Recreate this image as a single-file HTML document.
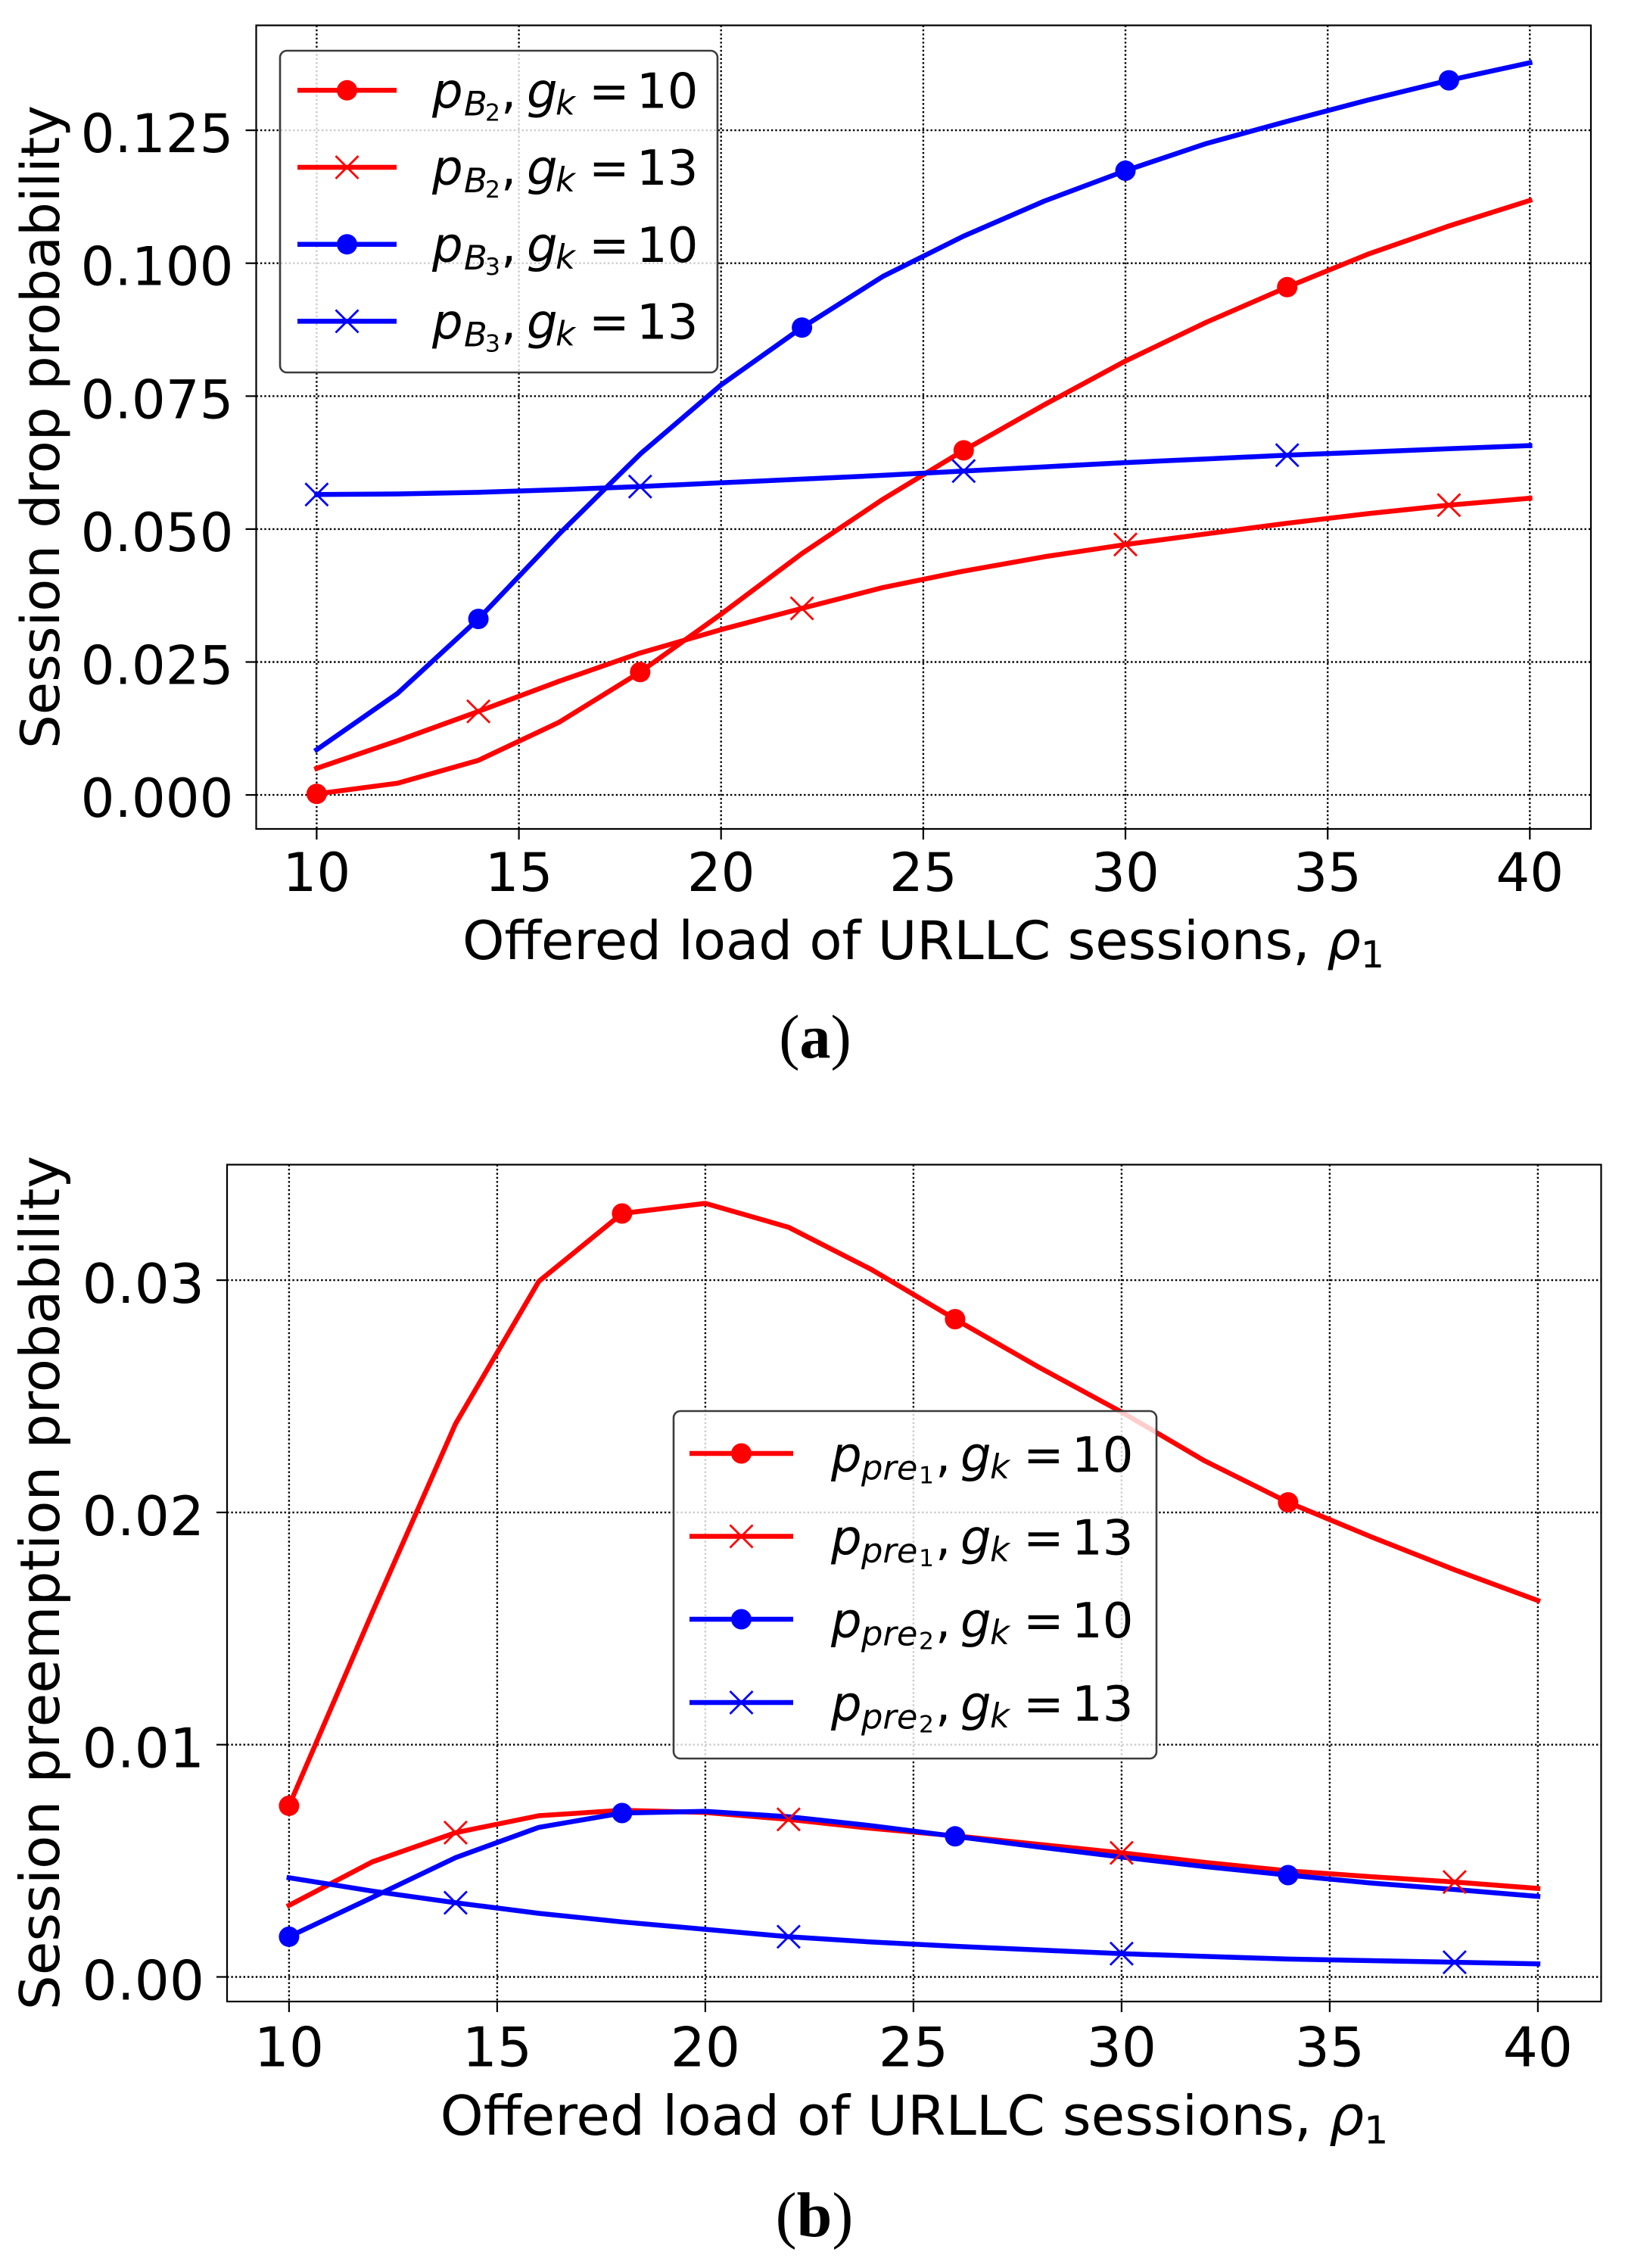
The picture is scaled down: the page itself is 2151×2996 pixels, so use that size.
<!DOCTYPE html>
<html>
<head>
<meta charset="utf-8">
<style>
html,body{margin:0;padding:0;background:#fff;}
svg{display:block;}
text{font-family:"DejaVu Sans","Liberation Sans",sans-serif;fill:#000;}
</style>
</head>
<body>
<svg xmlns="http://www.w3.org/2000/svg" width="2151" height="2996" viewBox="0 0 2151 2996">
<rect x="0" y="0" width="2151" height="2996" fill="#fff"/>

<!-- ================= PLOT (a) ================= -->
<g stroke="#000" stroke-width="2.4" stroke-dasharray="2.4 3" fill="none">
  <line x1="418.4" y1="33.5" x2="418.4" y2="1095"/>
  <line x1="685.6" y1="33.5" x2="685.6" y2="1095"/>
  <line x1="952.7" y1="33.5" x2="952.7" y2="1095"/>
  <line x1="1219.9" y1="33.5" x2="1219.9" y2="1095"/>
  <line x1="1487.0" y1="33.5" x2="1487.0" y2="1095"/>
  <line x1="1754.2" y1="33.5" x2="1754.2" y2="1095"/>
  <line x1="2021.3" y1="33.5" x2="2021.3" y2="1095"/>
  <line x1="338.5" y1="1050.1" x2="2102" y2="1050.1"/>
  <line x1="338.5" y1="874.5" x2="2102" y2="874.5"/>
  <line x1="338.5" y1="698.9" x2="2102" y2="698.9"/>
  <line x1="338.5" y1="523.3" x2="2102" y2="523.3"/>
  <line x1="338.5" y1="347.7" x2="2102" y2="347.7"/>
  <line x1="338.5" y1="172.1" x2="2102" y2="172.1"/>
</g>

<g fill="none" stroke-width="6.5" stroke-linejoin="round" stroke-linecap="square">
  <polyline stroke="#ff0000" points="418.4,1048.7 525.3,1034.6 632.1,1004.4 739.0,953.9 845.8,887.8 952.7,811.3 1059.6,731.2 1166.4,659.6 1273.3,594.9 1380.1,534.5 1487.0,476.9 1593.9,425.7 1700.7,379.3 1807.6,335.7 1914.4,298.5 2021.3,264.8"/>
  <polyline stroke="#ff0000" points="418.4,1015.0 525.3,978.5 632.1,939.8 739.0,899.8 845.8,862.6 952.7,831.7 1059.6,803.6 1166.4,776.2 1273.3,754.4 1380.1,735.4 1487.0,719.3 1593.9,705.2 1700.7,691.2 1807.6,678.5 1914.4,667.3 2021.3,658.2"/>
  <polyline stroke="#0000ff" points="418.4,990.4 525.3,915.9 632.1,817.6 739.0,705.2 845.8,599.9 952.7,508.5 1059.6,432.7 1166.4,365.2 1273.3,311.9 1380.1,265.5 1487.0,225.5 1593.9,189.6 1700.7,160.2 1807.6,132.1 1914.4,106.1 2021.3,82.9"/>
  <polyline stroke="#0000ff" points="418.4,653.2 525.3,652.5 632.1,650.4 739.0,646.9 845.8,642.7 952.7,637.8 1059.6,632.9 1166.4,627.9 1273.3,622.3 1380.1,616.7 1487.0,611.1 1593.9,606.2 1700.7,601.3 1807.6,597.1 1914.4,592.8 2021.3,588.6"/>
</g>
<g fill="#ff0000">
  <circle cx="418.4" cy="1048.7" r="13.5"/>
  <circle cx="845.8" cy="887.8" r="13.5"/>
  <circle cx="1273.3" cy="594.9" r="13.5"/>
  <circle cx="1700.7" cy="379.3" r="13.5"/>
</g>
<g stroke="#ff0000" stroke-width="2.8" fill="none">
  <path d="M617.1,924.8 L647.1,954.8 M617.1,954.8 L647.1,924.8"/>
  <path d="M1044.6,788.6 L1074.6,818.6 M1044.6,818.6 L1074.6,788.6"/>
  <path d="M1472.0,704.3 L1502.0,734.3 M1472.0,734.3 L1502.0,704.3"/>
  <path d="M1899.4,652.3 L1929.4,682.3 M1899.4,682.3 L1929.4,652.3"/>
</g>
<g fill="#0000ff">
  <circle cx="632.1" cy="817.6" r="13.5"/>
  <circle cx="1059.6" cy="432.7" r="13.5"/>
  <circle cx="1487.0" cy="225.5" r="13.5"/>
  <circle cx="1914.4" cy="106.1" r="13.5"/>
</g>
<g stroke="#0000ff" stroke-width="2.8" fill="none">
  <path d="M403.4,638.2 L433.4,668.2 M403.4,668.2 L433.4,638.2"/>
  <path d="M830.8,627.7 L860.8,657.7 M830.8,657.7 L860.8,627.7"/>
  <path d="M1258.3,607.3 L1288.3,637.3 M1258.3,637.3 L1288.3,607.3"/>
  <path d="M1685.7,586.3 L1715.7,616.3 M1685.7,616.3 L1715.7,586.3"/>
</g>

<!-- axes (a) -->
<rect x="338.5" y="33.5" width="1763.5" height="1061.5" fill="none" stroke="#000" stroke-width="2.2"/>
<g stroke="#000" stroke-width="2.2">
  <line x1="418.4" y1="1095" x2="418.4" y2="1109"/>
  <line x1="685.6" y1="1095" x2="685.6" y2="1109"/>
  <line x1="952.7" y1="1095" x2="952.7" y2="1109"/>
  <line x1="1219.9" y1="1095" x2="1219.9" y2="1109"/>
  <line x1="1487.0" y1="1095" x2="1487.0" y2="1109"/>
  <line x1="1754.2" y1="1095" x2="1754.2" y2="1109"/>
  <line x1="2021.3" y1="1095" x2="2021.3" y2="1109"/>
  <line x1="324.5" y1="1050.1" x2="338.5" y2="1050.1"/>
  <line x1="324.5" y1="874.5" x2="338.5" y2="874.5"/>
  <line x1="324.5" y1="698.9" x2="338.5" y2="698.9"/>
  <line x1="324.5" y1="523.3" x2="338.5" y2="523.3"/>
  <line x1="324.5" y1="347.7" x2="338.5" y2="347.7"/>
  <line x1="324.5" y1="172.1" x2="338.5" y2="172.1"/>
</g>
<g font-size="70.5" text-anchor="middle">
  <text x="418.4" y="1177">10</text>
  <text x="685.6" y="1177">15</text>
  <text x="952.7" y="1177">20</text>
  <text x="1219.9" y="1177">25</text>
  <text x="1487.0" y="1177">30</text>
  <text x="1754.2" y="1177">35</text>
  <text x="2021.3" y="1177">40</text>
</g>
<g font-size="70.5" text-anchor="end">
  <text x="308.5" y="1079">0.000</text>
  <text x="308.5" y="903.5">0.025</text>
  <text x="308.5" y="728">0.050</text>
  <text x="308.5" y="552.3">0.075</text>
  <text x="308.5" y="376.7">0.100</text>
  <text x="308.5" y="201.1">0.125</text>
</g>
<text font-size="70.5" text-anchor="middle" transform="translate(78,564) rotate(-90)">Session drop probability</text>
<text font-size="70.5" text-anchor="middle" x="1220" y="1267">Offered load of URLLC sessions, <tspan font-style="italic">ρ</tspan><tspan font-size="49" dy="11">1</tspan></text>

<!-- legend (a) -->
<rect x="370" y="67" width="578" height="425" rx="9" ry="9" fill="#fff" fill-opacity="0.8" stroke="#3c3c3c" stroke-width="2.6"/>
<g stroke-width="6.5" stroke-linecap="butt">
  <line x1="393" y1="119.3" x2="524" y2="119.3" stroke="#ff0000"/>
  <line x1="393" y1="221" x2="524" y2="221" stroke="#ff0000"/>
  <line x1="393" y1="322.7" x2="524" y2="322.7" stroke="#0000ff"/>
  <line x1="393" y1="424.4" x2="524" y2="424.4" stroke="#0000ff"/>
</g>
<circle cx="458.5" cy="119.3" r="13.5" fill="#ff0000"/>
<path d="M443.5,206 L473.5,236 M443.5,236 L473.5,206" stroke="#ff0000" stroke-width="2.8" fill="none"/>
<circle cx="458.5" cy="322.7" r="13.5" fill="#0000ff"/>
<path d="M443.5,409.4 L473.5,439.4 M443.5,439.4 L473.5,409.4" stroke="#0000ff" stroke-width="2.8" fill="none"/>

<g font-size="64">
  <text y="142.4"><tspan x="571" font-style="italic">p</tspan><tspan x="613" dy="10" font-size="44.8" font-style="italic">B</tspan><tspan x="641" dy="7" font-size="31.4">2</tspan><tspan x="662" dy="-17">,</tspan><tspan x="696" font-style="italic">g</tspan><tspan x="734" dy="9" font-size="44.8" font-style="italic">k</tspan><tspan x="778" dy="-9">=</tspan><tspan x="841">10</tspan></text>
  <text y="244.1"><tspan x="571" font-style="italic">p</tspan><tspan x="613" dy="10" font-size="44.8" font-style="italic">B</tspan><tspan x="641" dy="7" font-size="31.4">2</tspan><tspan x="662" dy="-17">,</tspan><tspan x="696" font-style="italic">g</tspan><tspan x="734" dy="9" font-size="44.8" font-style="italic">k</tspan><tspan x="778" dy="-9">=</tspan><tspan x="841">13</tspan></text>
  <text y="345.8"><tspan x="571" font-style="italic">p</tspan><tspan x="613" dy="10" font-size="44.8" font-style="italic">B</tspan><tspan x="641" dy="7" font-size="31.4">3</tspan><tspan x="662" dy="-17">,</tspan><tspan x="696" font-style="italic">g</tspan><tspan x="734" dy="9" font-size="44.8" font-style="italic">k</tspan><tspan x="778" dy="-9">=</tspan><tspan x="841">10</tspan></text>
  <text y="447.5"><tspan x="571" font-style="italic">p</tspan><tspan x="613" dy="10" font-size="44.8" font-style="italic">B</tspan><tspan x="641" dy="7" font-size="31.4">3</tspan><tspan x="662" dy="-17">,</tspan><tspan x="696" font-style="italic">g</tspan><tspan x="734" dy="9" font-size="44.8" font-style="italic">k</tspan><tspan x="778" dy="-9">=</tspan><tspan x="841">13</tspan></text>
</g>

<text x="1077" y="1397" text-anchor="middle" font-size="82" style="font-family:'Liberation Serif',serif;">(<tspan font-weight="bold">a</tspan>)</text>

<!-- ================= PLOT (b) ================= -->
<g stroke="#000" stroke-width="2.4" stroke-dasharray="2.4 3" fill="none">
  <line x1="381.9" y1="1538.5" x2="381.9" y2="2644"/>
  <line x1="656.9" y1="1538.5" x2="656.9" y2="2644"/>
  <line x1="931.9" y1="1538.5" x2="931.9" y2="2644"/>
  <line x1="1206.9" y1="1538.5" x2="1206.9" y2="2644"/>
  <line x1="1481.9" y1="1538.5" x2="1481.9" y2="2644"/>
  <line x1="1756.9" y1="1538.5" x2="1756.9" y2="2644"/>
  <line x1="2031.9" y1="1538.5" x2="2031.9" y2="2644"/>
  <line x1="300" y1="2611.5" x2="2115.5" y2="2611.5"/>
  <line x1="300" y1="2304.7" x2="2115.5" y2="2304.7"/>
  <line x1="300" y1="1997.9" x2="2115.5" y2="1997.9"/>
  <line x1="300" y1="1691.1" x2="2115.5" y2="1691.1"/>
</g>

<g fill="none" stroke-width="6.5" stroke-linejoin="round" stroke-linecap="square">
  <polyline stroke="#ff0000" points="381.9,2385.4 491.9,2130.0 601.9,1880.8 711.9,1692.7 821.9,1603.0 931.9,1589.6 1041.9,1621.2 1151.9,1677.3 1261.9,1742.6 1371.9,1805.7 1481.9,1865.3 1591.9,1929.9 1701.9,1984.6 1811.9,2030.2 1921.9,2073.7 2031.9,2114.3"/>
  <polyline stroke="#ff0000" points="381.9,2517.0 491.9,2459.5 601.9,2420.9 711.9,2398.5 821.9,2391.4 931.9,2394.2 1041.9,2403.4 1151.9,2415.3 1261.9,2425.1 1371.9,2436.3 1481.9,2447.6 1591.9,2460.2 1701.9,2471.4 1811.9,2479.1 1921.9,2486.1 2031.9,2494.6"/>
  <polyline stroke="#0000ff" points="381.9,2558.4 491.9,2506.5 601.9,2453.9 711.9,2413.9 821.9,2395.0 931.9,2392.8 1041.9,2399.9 1151.9,2411.8 1261.9,2425.8 1371.9,2439.8 1481.9,2453.2 1591.9,2465.8 1701.9,2477.0 1811.9,2487.5 1921.9,2496.0 2031.9,2505.1"/>
  <polyline stroke="#0000ff" points="381.9,2480.5 491.9,2498.1 601.9,2513.5 711.9,2527.5 821.9,2538.8 931.9,2548.6 1041.9,2558.4 1151.9,2565.4 1261.9,2571.0 1371.9,2575.9 1481.9,2580.8 1591.9,2584.4 1701.9,2587.9 1811.9,2590.0 1921.9,2592.1 2031.9,2594.2"/>
</g>
<g fill="#ff0000">
  <circle cx="381.9" cy="2385.4" r="13.5"/>
  <circle cx="821.9" cy="1603.0" r="13.5"/>
  <circle cx="1261.9" cy="1742.6" r="13.5"/>
  <circle cx="1701.9" cy="1984.6" r="13.5"/>
</g>
<g stroke="#ff0000" stroke-width="2.8" fill="none">
  <path d="M586.9,2405.9 L616.9,2435.9 M586.9,2435.9 L616.9,2405.9"/>
  <path d="M1026.9,2388.4 L1056.9,2418.4 M1026.9,2418.4 L1056.9,2388.4"/>
  <path d="M1466.9,2432.6 L1496.9,2462.6 M1466.9,2462.6 L1496.9,2432.6"/>
  <path d="M1906.9,2471.1 L1936.9,2501.1 M1906.9,2501.1 L1936.9,2471.1"/>
</g>
<g fill="#0000ff">
  <circle cx="381.9" cy="2558.4" r="13.5"/>
  <circle cx="821.9" cy="2395.0" r="13.5"/>
  <circle cx="1261.9" cy="2425.8" r="13.5"/>
  <circle cx="1701.9" cy="2477.0" r="13.5"/>
</g>
<g stroke="#0000ff" stroke-width="2.8" fill="none">
  <path d="M586.9,2498.5 L616.9,2528.5 M586.9,2528.5 L616.9,2498.5"/>
  <path d="M1026.9,2543.4 L1056.9,2573.4 M1026.9,2573.4 L1056.9,2543.4"/>
  <path d="M1466.9,2565.8 L1496.9,2595.8 M1466.9,2595.8 L1496.9,2565.8"/>
  <path d="M1906.9,2577.1 L1936.9,2607.1 M1906.9,2607.1 L1936.9,2577.1"/>
</g>

<!-- axes (b) -->
<rect x="300" y="1538.5" width="1815.5" height="1105.5" fill="none" stroke="#000" stroke-width="2.2"/>
<g stroke="#000" stroke-width="2.2">
  <line x1="381.9" y1="2644" x2="381.9" y2="2658"/>
  <line x1="656.9" y1="2644" x2="656.9" y2="2658"/>
  <line x1="931.9" y1="2644" x2="931.9" y2="2658"/>
  <line x1="1206.9" y1="2644" x2="1206.9" y2="2658"/>
  <line x1="1481.9" y1="2644" x2="1481.9" y2="2658"/>
  <line x1="1756.9" y1="2644" x2="1756.9" y2="2658"/>
  <line x1="2031.9" y1="2644" x2="2031.9" y2="2658"/>
  <line x1="286" y1="2611.5" x2="300" y2="2611.5"/>
  <line x1="286" y1="2304.7" x2="300" y2="2304.7"/>
  <line x1="286" y1="1997.9" x2="300" y2="1997.9"/>
  <line x1="286" y1="1691.1" x2="300" y2="1691.1"/>
</g>
<g font-size="72.5" text-anchor="middle">
  <text x="381.9" y="2729.5">10</text>
  <text x="656.9" y="2729.5">15</text>
  <text x="931.9" y="2729.5">20</text>
  <text x="1206.9" y="2729.5">25</text>
  <text x="1481.9" y="2729.5">30</text>
  <text x="1756.9" y="2729.5">35</text>
  <text x="2031.9" y="2729.5">40</text>
</g>
<g font-size="72.5" text-anchor="end">
  <text x="270" y="2641.5">0.00</text>
  <text x="270" y="2334.7">0.01</text>
  <text x="270" y="2027.9">0.02</text>
  <text x="270" y="1721.1">0.03</text>
</g>
<text font-size="72.5" text-anchor="middle" transform="translate(78,2091) rotate(-90)">Session preemption probability</text>
<text font-size="72.5" text-anchor="middle" x="1208" y="2820">Offered load of URLLC sessions, <tspan font-style="italic">ρ</tspan><tspan font-size="50.7" dy="11.7">1</tspan></text>

<!-- legend (b) -->
<rect x="890" y="1864" width="638" height="459" rx="9" ry="9" fill="#fff" fill-opacity="0.8" stroke="#3c3c3c" stroke-width="2.6"/>
<g stroke-width="6.5" stroke-linecap="butt">
  <line x1="911" y1="1920" x2="1048" y2="1920" stroke="#ff0000"/>
  <line x1="911" y1="2029.5" x2="1048" y2="2029.5" stroke="#ff0000"/>
  <line x1="911" y1="2139" x2="1048" y2="2139" stroke="#0000ff"/>
  <line x1="911" y1="2249" x2="1048" y2="2249" stroke="#0000ff"/>
</g>
<circle cx="979.5" cy="1920" r="13.5" fill="#ff0000"/>
<path d="M964.5,2014.5 L994.5,2044.5 M964.5,2044.5 L994.5,2014.5" stroke="#ff0000" stroke-width="2.8" fill="none"/>
<circle cx="979.5" cy="2139" r="13.5" fill="#0000ff"/>
<path d="M964.5,2234 L994.5,2264 M964.5,2264 L994.5,2234" stroke="#0000ff" stroke-width="2.8" fill="none"/>

<g font-size="64">
  <text y="1944"><tspan x="1098" font-style="italic">p</tspan><tspan x="1138" dy="10.5" font-size="44.8" font-style="italic">pre</tspan><tspan x="1214" dy="5" font-size="31.4">1</tspan><tspan x="1236" dy="-15.5">,</tspan><tspan x="1269" font-style="italic">g</tspan><tspan x="1308" dy="9" font-size="44.8" font-style="italic">k</tspan><tspan x="1352" dy="-9">=</tspan><tspan x="1416">10</tspan></text>
  <text y="2053.5"><tspan x="1098" font-style="italic">p</tspan><tspan x="1138" dy="10.5" font-size="44.8" font-style="italic">pre</tspan><tspan x="1214" dy="5" font-size="31.4">1</tspan><tspan x="1236" dy="-15.5">,</tspan><tspan x="1269" font-style="italic">g</tspan><tspan x="1308" dy="9" font-size="44.8" font-style="italic">k</tspan><tspan x="1352" dy="-9">=</tspan><tspan x="1416">13</tspan></text>
  <text y="2163"><tspan x="1098" font-style="italic">p</tspan><tspan x="1138" dy="10.5" font-size="44.8" font-style="italic">pre</tspan><tspan x="1214" dy="5" font-size="31.4">2</tspan><tspan x="1236" dy="-15.5">,</tspan><tspan x="1269" font-style="italic">g</tspan><tspan x="1308" dy="9" font-size="44.8" font-style="italic">k</tspan><tspan x="1352" dy="-9">=</tspan><tspan x="1416">10</tspan></text>
  <text y="2273"><tspan x="1098" font-style="italic">p</tspan><tspan x="1138" dy="10.5" font-size="44.8" font-style="italic">pre</tspan><tspan x="1214" dy="5" font-size="31.4">2</tspan><tspan x="1236" dy="-15.5">,</tspan><tspan x="1269" font-style="italic">g</tspan><tspan x="1308" dy="9" font-size="44.8" font-style="italic">k</tspan><tspan x="1352" dy="-9">=</tspan><tspan x="1416">13</tspan></text>
</g>

<text x="1076" y="2954" text-anchor="middle" font-size="84" style="font-family:'Liberation Serif',serif;">(<tspan font-weight="bold">b</tspan>)</text>
</svg>
</body>
</html>
